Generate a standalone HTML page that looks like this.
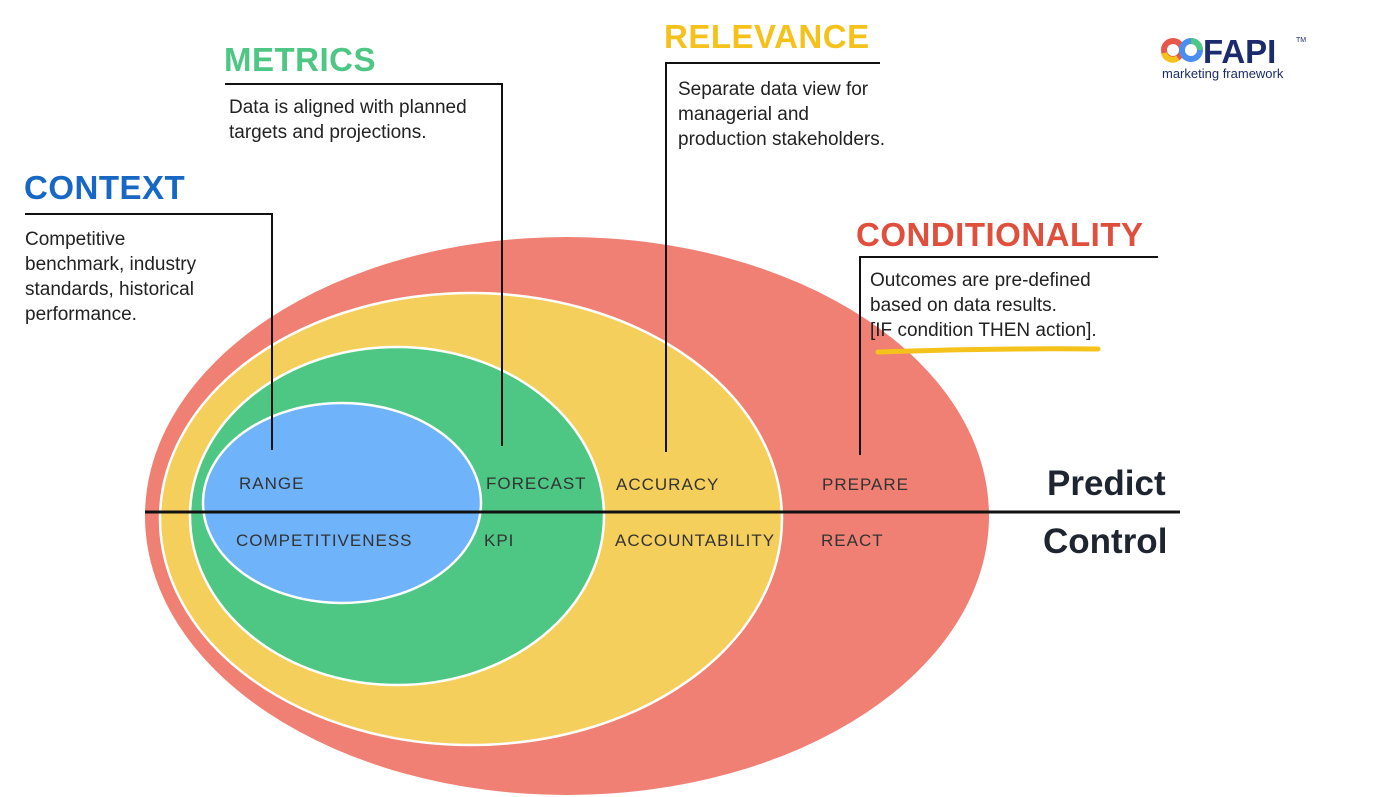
<!DOCTYPE html>
<html><head><meta charset="utf-8"><style>
body{margin:0;background:#fff;}
.w{position:relative;width:1380px;height:797px;overflow:hidden;font-family:"Liberation Sans",sans-serif;}
.h{position:absolute;font-weight:bold;font-size:33px;letter-spacing:0.5px;}
.t{position:absolute;font-size:19px;line-height:25px;color:#222;}
</style></head><body><div class="w">
<svg width="1380" height="797" style="position:absolute;left:0;top:0">
<ellipse cx="567" cy="516" rx="422" ry="279" fill="#ef8073"/>
<ellipse cx="471" cy="519" rx="311" ry="226" fill="#f5cf5b" stroke="#fff" stroke-width="2.5"/>
<ellipse cx="397" cy="516" rx="207" ry="169" fill="#4ec784" stroke="#fff" stroke-width="2.5"/>
<ellipse cx="342" cy="503" rx="139" ry="100" fill="#6fb3fa" stroke="#fff" stroke-width="2.5"/>
<line x1="145" y1="512" x2="1180" y2="512" stroke="#111" stroke-width="3"/>
<g stroke="#111" stroke-width="2" fill="none">
<polyline points="25,214 272,214 272,450"/>
<polyline points="225,84 502,84 502,446"/>
<polyline points="880,63 666,63 666,452"/>
<polyline points="1158,257 860,257 860,455"/>
</g>
<path d="M878,352 Q990,348 1098,349" stroke="#f5c21b" stroke-width="5" stroke-linecap="round" fill="none"/>
<g font-family="Liberation Sans" font-size="17" fill="#333" letter-spacing="1">
<text x="239" y="489">RANGE</text>
<text x="486" y="489">FORECAST</text>
<text x="616" y="490">ACCURACY</text>
<text x="822" y="490">PREPARE</text>
<text x="236" y="546">COMPETITIVENESS</text>
<text x="484" y="546">KPI</text>
<text x="615" y="546">ACCOUNTABILITY</text>
<text x="821" y="546">REACT</text>
</g>
<g font-family="Liberation Sans" font-weight="bold" font-size="35" fill="#1f2530">
<text x="1047" y="495">Predict</text>
<text x="1043" y="553">Control</text>
</g>
<circle cx="1173" cy="50" r="9" fill="none" stroke="#e8584a" stroke-width="6"/>
<circle cx="1191" cy="50" r="9" fill="none" stroke="#4a8ff0" stroke-width="6"/>
<path d="M1164,53 a9,9 0 0 0 14,5" stroke="#f5c21b" stroke-width="6" fill="none"/>
<path d="M1191,41 a9,9 0 0 1 9,9" stroke="#4ec784" stroke-width="6" fill="none"/>
<text x="1203" y="63" font-family="Liberation Sans" font-weight="bold" font-size="33" fill="#1c2b6b">FAPI</text>
<text x="1296" y="42" font-family="Liberation Sans" font-size="7" fill="#1c2b6b">TM</text>
<text x="1162" y="78" font-family="Liberation Sans" font-size="13" fill="#1c2b6b">marketing framework</text>
</svg>
<div class="h" style="left:24px;top:169px;color:#1668c4">CONTEXT</div>
<div class="t" style="left:25px;top:227px">Competitive<br>benchmark, industry<br>standards, historical<br>performance.</div>
<div class="h" style="left:224px;top:41px;color:#4ec784">METRICS</div>
<div class="t" style="left:229px;top:95px">Data is aligned with planned<br>targets and projections.</div>
<div class="h" style="left:664px;top:18px;color:#f5c21b">RELEVANCE</div>
<div class="t" style="left:678px;top:77px">Separate data view for<br>managerial and<br>production stakeholders.</div>
<div class="h" style="left:856px;top:216px;color:#e04e3c">CONDITIONALITY</div>
<div class="t" style="left:870px;top:268px">Outcomes are pre-defined<br>based on data results.<br>[IF condition THEN action].</div>
</div></body></html>
